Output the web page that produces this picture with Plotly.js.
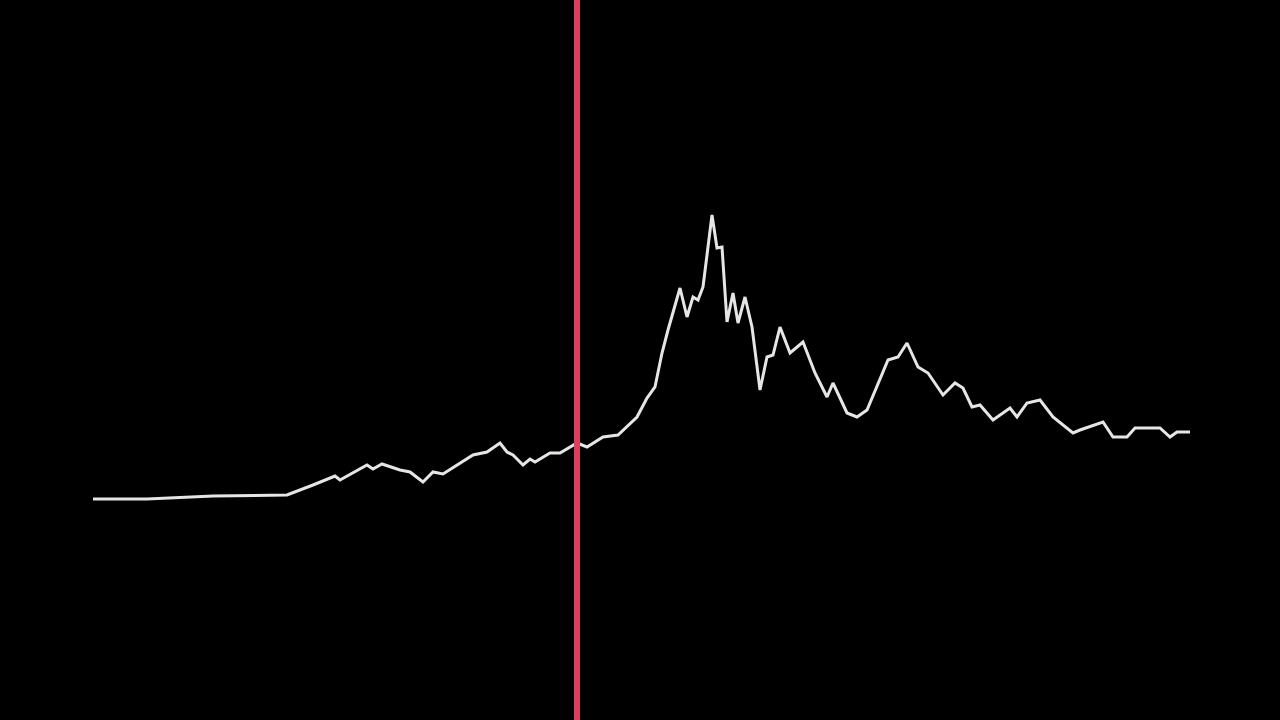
<!DOCTYPE html>
<html>
<head>
<meta charset="utf-8">
<script src="https://cdn.plot.ly/plotly-3.0.1.min.js"></script>
<style>
  html, body { margin: 0; padding: 0; background: #000; }
  #chart { width: 1280px; height: 720px; }
</style>
</head>
<body>
<div id="chart"></div>
<script>
// time steps and values
const steps = [
  93, 147, 213, 287, 313, 335, 340, 367, 373, 382, 400, 410, 423, 433, 443,
  473, 487, 500, 507, 513, 523, 530, 535, 550, 560, 577, 587, 603, 618, 637,
  647, 655, 662, 668, 680, 687, 693, 698, 703, 712, 717, 722, 727, 733, 738,
  745, 752, 760, 767, 773, 780, 790, 803, 815, 827, 833, 847, 857, 867, 877,
  888, 898, 907, 918, 928, 943, 955, 963, 972, 980, 993, 1010, 1017, 1027, 1040,
  1053, 1073, 1080, 1103, 1113, 1127, 1135, 1160, 1170, 1177, 1190
];
const values = [
  221, 221, 224, 225, 235, 244, 240, 255, 251, 256, 250, 248, 238, 248, 246,
  265, 268, 277, 268, 265, 255, 261, 258, 267, 267, 277, 273, 283, 285, 303,
  322, 333, 367, 390, 432, 403, 423, 420, 433, 505, 472, 473, 398, 427, 397,
  423, 393, 330, 363, 365, 393, 367, 378, 347, 323, 337, 307, 303, 310, 333,
  360, 363, 377, 353, 347, 325, 337, 332, 313, 315, 300, 312, 303, 317, 320,
  303, 287, 290, 298, 283, 283, 292, 292, 283, 288, 288
];
const markerStep = 577;

const trace = {
  x: steps,
  y: values,
  type: "scatter",
  mode: "lines",
  line: { color: "#e6e6e6", width: 3 },
  hoverinfo: "skip"
};

Plotly.newPlot("chart", [trace], {
  width: 1280,
  height: 720,
  paper_bgcolor: "#000",
  plot_bgcolor: "#000",
  showlegend: false,
  margin: { l: 0, r: 0, t: 0, b: 0 },
  xaxis: { range: [0, 1280], visible: false, fixedrange: true },
  yaxis: { range: [0, 720], visible: false, fixedrange: true },
  shapes: [
    {
      type: "line",
      xref: "x",
      yref: "paper",
      x0: markerStep,
      x1: markerStep,
      y0: 0,
      y1: 1,
      line: { color: "#dc3f5e", width: 6 }
    }
  ]
}, { displayModeBar: false, staticPlot: true });
</script>
</body>
</html>
